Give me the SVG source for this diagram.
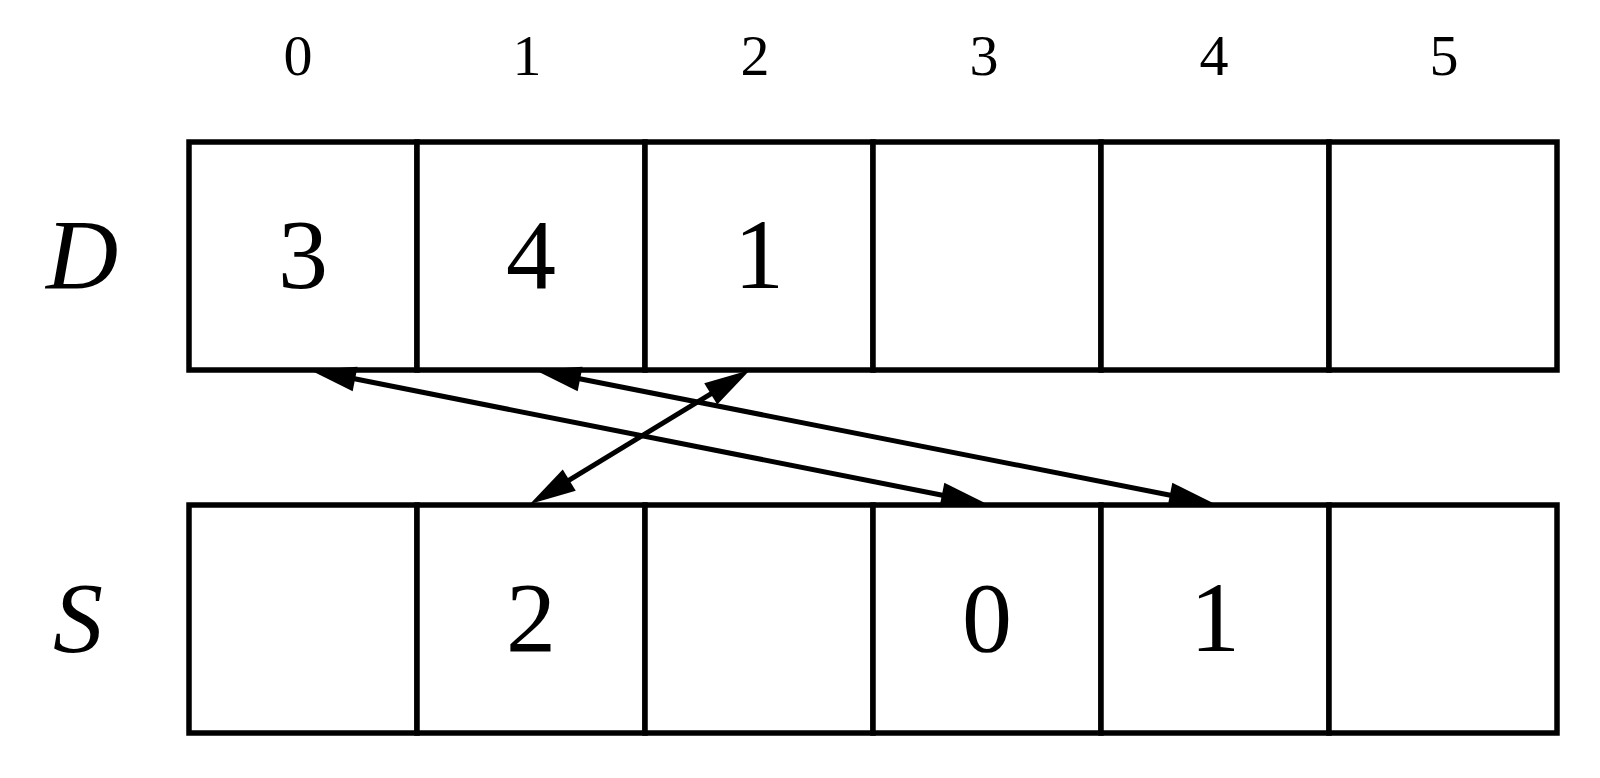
<svg xmlns="http://www.w3.org/2000/svg" width="1600" height="778" viewBox="0 0 1600 778">
<style>
.cell{fill:#fff;stroke:#000;stroke-width:5.5}
.idx{font-size:58px;text-anchor:middle;fill:#000}
.val{font-size:100px;text-anchor:middle;fill:#000}
.lbl{font-size:100px;font-style:italic;text-anchor:middle;fill:#000}
.conn{stroke:#000;stroke-width:5;fill:none;marker-start:url(#ah);marker-end:url(#ah)}
</style>
<defs>
<marker id="ah" markerUnits="userSpaceOnUse" orient="auto-start-reverse" refX="0" refY="0" markerWidth="60" markerHeight="30" overflow="visible">
<path d="M30,0 L-16,-12.5 L-16,12.5 Z" fill="#000"/>
</marker>
</defs>
<rect width="1600" height="778" fill="#fff"/>
<g font-family="'Times New Roman', 'Liberation Serif', serif">
<g id="indices">
<text class="idx" x="298" y="75">0</text>
<text class="idx" x="527" y="75">1</text>
<text class="idx" x="755" y="75">2</text>
<text class="idx" x="984" y="75">3</text>
<text class="idx" x="1214" y="75">4</text>
<text class="idx" x="1444" y="75">5</text>
</g>
<g id="rowD">
<text class="lbl" x="82" y="288">D</text>
<rect class="cell" x="189" y="142" width="228" height="228"/>
<rect class="cell" x="417" y="142" width="228" height="228"/>
<rect class="cell" x="645" y="142" width="228" height="228"/>
<rect class="cell" x="873" y="142" width="228" height="228"/>
<rect class="cell" x="1101" y="142" width="228" height="228"/>
<rect class="cell" x="1329" y="142" width="228" height="228"/>
<text class="val" x="303" y="288">3</text>
<text class="val" x="531" y="288">4</text>
<text class="val" x="759" y="288">1</text>
</g>
<g id="rowS">
<text class="lbl" x="78" y="651">S</text>
<rect class="cell" x="189" y="505" width="228" height="228"/>
<rect class="cell" x="417" y="505" width="228" height="228"/>
<rect class="cell" x="645" y="505" width="228" height="228"/>
<rect class="cell" x="873" y="505" width="228" height="228"/>
<rect class="cell" x="1101" y="505" width="228" height="228"/>
<rect class="cell" x="1329" y="505" width="228" height="228"/>
<text class="val" x="531" y="651">2</text>
<text class="val" x="987" y="651">0</text>
<text class="val" x="1215" y="651">1</text>
</g>
</g>
<g id="connectors">
<line class="conn" x1="339.4" y1="375.8" x2="957.6" y2="498.2"/>
<line class="conn" x1="564.4" y1="375.8" x2="1185.6" y2="498.2"/>
<line class="conn" x1="724.4" y1="385.6" x2="555.6" y2="488.4"/>
</g>
</svg>
